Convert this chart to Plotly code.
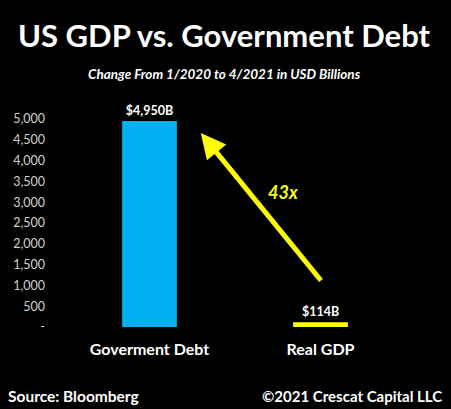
import plotly.graph_objects as go

categories = ["Goverment Debt", "Real GDP"]
values = [4950, 114]
value_labels = ["$4,950B", "$114B"]
bar_colors = ["#00B0F0", "#FFFF00"]
tick_vals = [0, 500, 1000, 1500, 2000, 2500, 3000, 3500, 4000, 4500, 5000]
tick_text = ["-", "500", "1,000", "1,500", "2,000", "2,500", "3,000", "3,500", "4,000", "4,500", "5,000"]
multiple_label = "43x"

FONT = "Lato"
W, H = 451, 409
ML, MR, MT, MB = 64, 45, 119, 82

fig = go.Figure()
fig.add_trace(go.Bar(
    x=[0, 1], y=values,
    marker=dict(color=bar_colors, line=dict(width=0)),
    width=0.32,
    text=["<b>%s</b>" % t for t in value_labels], textposition="outside",
    textfont=dict(color="white", size=12.5, family=FONT),
    cliponaxis=False,
))

fig.add_annotation(x=0.30, y=4663, ax=1.01, ay=1082, xref="x", yref="y",
                   axref="x", ayref="y", showarrow=True, arrowhead=2,
                   arrowsize=1, arrowwidth=5, arrowcolor="#FFFF00", text="")
fig.add_annotation(x=0.78, y=3250, xref="x", yref="y",
                   text="<b><i>%s</i></b>" % multiple_label,
                   showarrow=False, font=dict(color="#FFFF00", size=18, family=FONT))

fig.update_layout(
    width=W, height=H,
    paper_bgcolor="black", plot_bgcolor="black",
    margin=dict(l=ML, r=MR, t=MT, b=MB),
    showlegend=False,
    xaxis=dict(range=[-0.5, 1.5], tickvals=[0, 1],
               ticktext=["<b>%s</b>" % c for c in categories],
               showgrid=False, zeroline=False, showline=False,
               tickfont=dict(color="white", size=16, family=FONT), ticks="",
               ticklabelstandoff=11),
    yaxis=dict(range=[0, 5000], tickvals=tick_vals, ticktext=tick_text,
               showgrid=False, zeroline=False, showline=False,
               tickfont=dict(color="#D0D0D0", size=12.5, family=FONT), ticks="",
               ticklabelstandoff=18),
)

pw, ph = W - ML - MR, H - MT - MB
def px(xp):
    return (xp - ML) / pw
def py(yp):
    return (H - MB - yp) / ph

fig.add_annotation(x=px(224), y=py(35), xref="paper", yref="paper", showarrow=False,
                   text="<b>US GDP vs. Government Debt</b>",
                   font=dict(color="white", size=31, family=FONT), xanchor="center", yanchor="middle")
fig.add_annotation(x=px(224), y=py(74), xref="paper", yref="paper", showarrow=False,
                   text="<b><i>Change From 1/2020 to 4/2021 in USD Billions</i></b>",
                   font=dict(color="white", size=13.5, family=FONT), xanchor="center", yanchor="middle")
fig.add_annotation(x=px(6), y=py(396), xref="paper", yref="paper", showarrow=False,
                   text="<b>Source: Bloomberg</b>",
                   font=dict(color="white", size=15.5, family=FONT), xanchor="left", yanchor="middle")
fig.add_annotation(x=px(444), y=py(396), xref="paper", yref="paper", showarrow=False,
                   text="<b>©2021 Crescat Capital LLC</b>",
                   font=dict(color="white", size=15, family=FONT), xanchor="right", yanchor="middle")

fig.write_html("out.html", config={"displayModeBar": False})

with open("out.html", encoding="utf-8") as f:
    html = f.read()
html = html.replace("<head>", "<head><style>html,body{margin:0;padding:0;background:black;overflow:hidden;}</style>", 1)
with open("out.html", "w", encoding="utf-8") as f:
    f.write(html)
